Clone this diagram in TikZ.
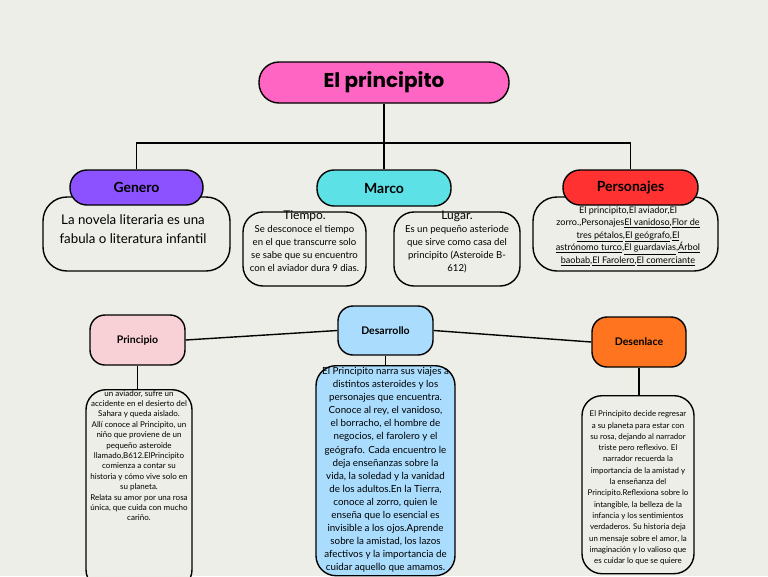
\documentclass[tikz,border=0pt]{standalone}
\usepackage{fontspec}
\setmainfont{Lato}
\newfontfamily\titlefont{Poppins}
\definecolor{bgc}{HTML}{EEEEE8}
\definecolor{titlec}{HTML}{FF66C4}
\definecolor{generoc}{HTML}{8C52FF}
\definecolor{marcoc}{HTML}{5CE1E6}
\definecolor{persc}{HTML}{FF3131}
\definecolor{princc}{HTML}{F8D1D6}
\definecolor{desac}{HTML}{AADCFD}
\definecolor{desenc}{HTML}{FF751F}
\tikzset{
  pill/.style={draw=black, line width=1.4pt, rounded corners=17pt, inner sep=0pt, font=\bfseries\fontsize{14}{16}\selectfont},
  midbox/.style={draw=black, line width=1.4pt, rounded corners=15pt, inner sep=0pt, font=\bfseries\fontsize{10.5}{12}\selectfont},
  descbox/.style={draw=black, line width=1.4pt, fill=bgc, rounded corners=24pt, inner sep=0pt, align=center},
  tallbox/.style={draw=black, line width=1.4pt, rounded corners=20pt, inner sep=0pt},
  conn/.style={draw=black, line width=1.4pt},
  txt/.style={inner sep=0pt, align=center}
}
\begin{document}
\begin{tikzpicture}[x=1pt,y=-1pt]
\useasboundingbox (0,0) rectangle (768,576);
\fill[bgc] (0,0) rectangle (768,576);

% title
\node[pill, fill=titlec, rounded corners=20pt, minimum width=250pt, minimum height=41pt, font=\titlefont\bfseries\fontsize{20}{22}\selectfont] (title) at (384,82.5) {El principito};

% description boxes of level 1
\node[descbox, minimum width=187pt, minimum height=74pt] (gdesc) at (136.5,234) {};
\node[txt, font=\fontsize{13.3}{19}\selectfont] (gtxt) at (133,229.5) {La novela literaria es una\\fabula o literatura infantil};
\node[descbox, minimum width=123pt, minimum height=74pt, rounded corners=20pt] (tdesc) at (304.5,249) {};
\node[txt, anchor=north, font=\fontsize{9.6}{13}\selectfont] (ttxt) at (304.5,211) {{\fontsize{12}{12}\selectfont Tiempo.}\\Se desconoce el tiempo\\en el que transcurre solo\\se sabe que su encuentro\\con el aviador dura 9 dias.};
\node[descbox, minimum width=126pt, minimum height=74pt, rounded corners=20pt] (ldesc) at (457,249) {};
\node[txt, anchor=north, font=\fontsize{9.6}{13}\selectfont] (ltxt) at (457,211) {{\fontsize{12}{12}\selectfont Lugar.}\\Es un pequeño asteriode\\que sirve como casa del\\principito (Asteroide B-\\612)};
\node[descbox, minimum width=185pt, minimum height=74pt] (pdesc) at (625.5,234) {};
\node[txt, font=\fontsize{9.1}{12.6}\selectfont] (ptxtp) at (628,236) {El principito,El aviador,El\\zorro.,Personajes\underline{El vanidoso},\underline{Flor de}\\\underline{tres pétalos},\underline{El geógrafo},\underline{El}\\\underline{astrónomo turco},\underline{El guardavias},\underline{Árbol}\\\underline{baobab},\underline{El Farolero},\underline{El comerciante}};

% level 1 pills
\node[pill, fill=generoc, minimum width=133pt, minimum height=35pt] (genero) at (136.5,187.5) {Genero};
\node[pill, fill=marcoc, minimum width=134pt, minimum height=36pt] (marco) at (384,188) {Marco};
\node[pill, fill=persc, minimum width=135pt, minimum height=35pt] (pers) at (630.5,187.5) {Personajes};

\coordinate (bus) at (384,143);
\draw[conn] (title.south) -- (marco.north);
\draw[conn] (genero.north) |- (bus) -| (pers.north);

% level 2
\node[midbox, fill=princc, minimum width=95pt, minimum height=50pt] (princ) at (137.5,340) {Principio};
\node[midbox, fill=desac, minimum width=95pt, minimum height=49pt] (desa) at (385.5,330.5) {Desarrollo};
\node[midbox, fill=desenc, minimum width=94pt, minimum height=50pt] (desen) at (639,342) {Desenlace};
\draw[conn] (princ.east) -- (desa.west);
\draw[conn] (desa.east) -- (desen.west);

% tall boxes
\node[tallbox, fill=bgc, minimum width=106pt, minimum height=200pt, anchor=north] (pbox) at (139,389) {};
\node[txt, anchor=north, font=\fontsize{8}{10.4}\selectfont] (ptxt) at (139,390) {un aviador, sufre un\\accidente en el desierto del\\Sahara y queda aislado.\\Allí conoce al Principito, un\\niño que proviene de un\\pequeño asteroide\\llamado,B612.ElPrincipito\\comienza a contar su\\historia y cómo vive solo en\\su planeta.\\Relata su amor por una rosa\\única, que cuida con mucho\\cariño.};
\node[tallbox, fill=desac, minimum width=139pt, minimum height=210pt, anchor=north] (dbox) at (385.5,365) {};
\node[txt, anchor=north, font=\fontsize{9.8}{13.1}\selectfont] (dtxt) at (385.5,367) {El Principito narra sus viajes a\\distintos asteroides y los\\personajes que encuentra.\\ Conoce al rey, el vanidoso,\\el borracho, el hombre de\\negocios, el farolero y el\\geógrafo. Cada encuentro le\\deja enseñanzas sobre la\\vida, la soledad y la vanidad\\de los adultos.En la Tierra,\\conoce al zorro, quien le\\enseña que lo esencial es\\invisible a los ojos.Aprende\\sobre la amistad, los lazos\\afectivos y la importancia de\\cuidar aquello que amamos.};
\node[tallbox, fill=bgc, minimum width=112pt, minimum height=178pt, anchor=north] (ebox) at (638,395) {};
\node[txt, font=\fontsize{7.9}{11.3}\selectfont] (etxt) at (638,488) {El Principito decide regresar\\a su planeta para estar con\\su rosa, dejando al narrador\\triste pero reflexivo. El\\narrador recuerda la\\importancia de la amistad y\\la enseñanza del\\Principito.Reflexiona sobre lo\\intangible, la belleza de la\\infancia y los sentimientos\\verdaderos. Su historia deja\\un mensaje sobre el amor, la\\imaginación y lo valioso que\\es cuidar lo que se quiere};

\draw[conn] (princ.south) -- (princ.south |- pbox.north);
\draw[conn] (desa.south) -- (dbox.north);
\draw[conn] (desen.south) -- (desen.south |- ebox.north);
\end{tikzpicture}
\end{document}
